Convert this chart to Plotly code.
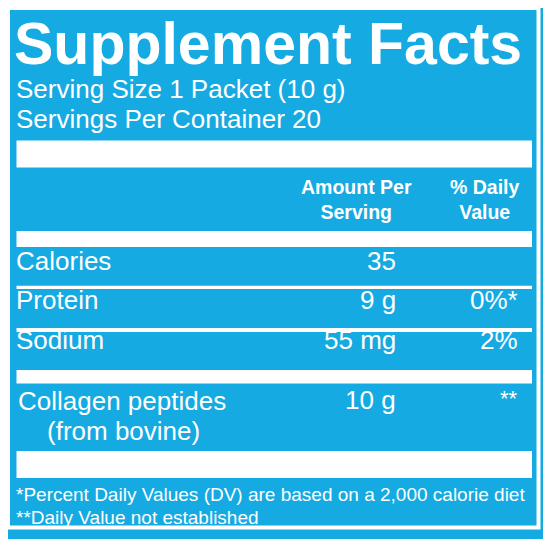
import plotly.graph_objects as go

BLUE = "#15aae2"
title = "Supplement Facts"
serving_lines = ["Serving Size 1 Packet (10 g)", "Servings Per Container 20"]
headers = ["Amount Per<br>Serving", "% Daily<br>Value"]
nutrients = ["Calories", "Protein", "Sodium"]
amounts = ["35", "9 g", "55 mg"]
dvs = ["", "0%*", "2%"]
extra_name = ["Collagen peptides", "(from bovine)"]
extra_amount = "10 g"
extra_dv = "**"
footnotes = ["*Percent Daily Values (DV) are based on a 2,000 calorie diet",
             "**Daily Value not established"]

F = "Liberation Sans, Arial, sans-serif"
fig = go.Figure()
shapes = [dict(type="rect", x0=8, x1=538.5, y0=8, y1=527.5,
               line=dict(color="white", width=4))]
for y0, y1 in [(140.5, 167.5), (231, 247), (285.7, 289), (328, 332), (370, 383.5), (451, 478)]:
    shapes.append(dict(type="rect", x0=16.5, x1=532, y0=y0, y1=y1,
                       fillcolor="white", line=dict(width=0)))
ann = []
def t(x, y, s, size, anchor="left", bold=False):
    ann.append(dict(x=x, y=y, text=("<b>%s</b>" % s) if bold else s, showarrow=False,
                    xanchor=anchor, yanchor="middle", align="center",
                    font=dict(family=F, size=size, color="white")))
t(12, 44, title, 59, bold=True)
t(14, 89, serving_lines[0], 26)
t(14, 119, serving_lines[1], 26)
t(356, 199, headers[0], 19.5, "center", bold=True)
t(485, 199, headers[1], 19.5, "center", bold=True)
for i, (n, a, d) in enumerate(zip(nutrients, amounts, dvs)):
    y = [261, 300, 340][i]
    t(14, y, n, 26)
    t(398, y, a, 26, "right")
    if d:
        t(520, y, d, 26, "right")
t(16, 401, extra_name[0], 26)
t(45, 431, extra_name[1], 26)
t(398, 400, extra_amount, 26, "right")
t(520, 398, extra_dv, 22, "right")
t(14, 494, footnotes[0], 19)
t(14, 517, footnotes[1], 19)

fig.update_layout(width=551, height=539, margin=dict(l=0, r=0, t=0, b=0),
                  paper_bgcolor=BLUE, plot_bgcolor=BLUE, shapes=shapes, annotations=ann,
                  xaxis=dict(range=[8, 559], visible=False, fixedrange=True),
                  yaxis=dict(range=[547, 8], visible=False, fixedrange=True),
                  showlegend=False)
fig.write_html("out.html", config={"displayModeBar": False})
